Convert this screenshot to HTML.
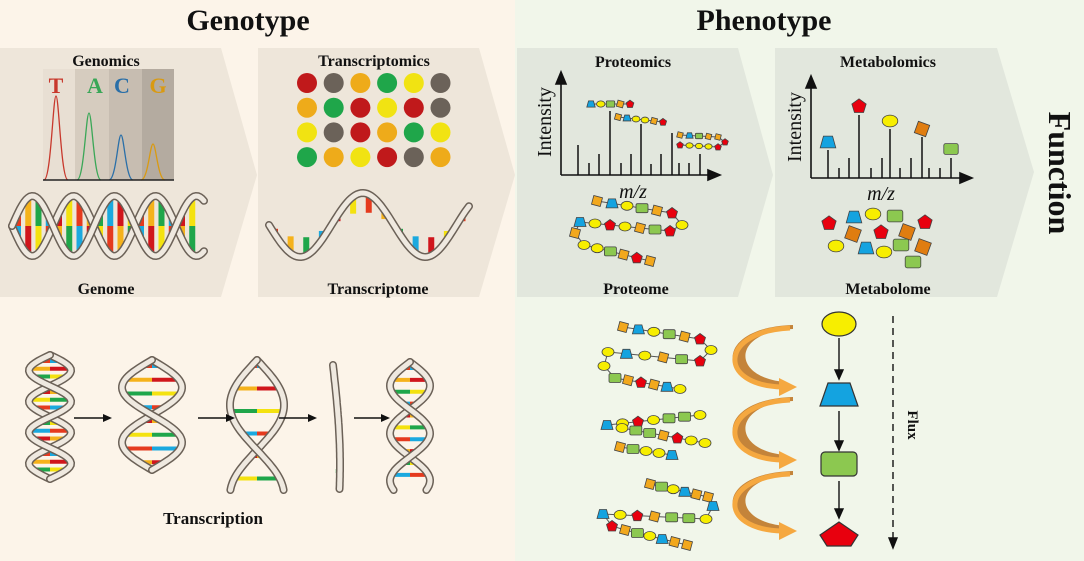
<!DOCTYPE html>
<html><head><meta charset="utf-8"><style>
html,body{margin:0;padding:0;background:#fbf4ea}
svg{display:block}
text{font-family:"Liberation Serif",serif;font-weight:bold;fill:#111}
</style></head><body>
<svg id="s" width="1084" height="561" viewBox="0 0 1084 561" xmlns="http://www.w3.org/2000/svg">
<rect x="0" y="0" width="515" height="561" fill="#fcf4e9"/>
<rect x="515" y="0" width="569" height="561" fill="#f1f6ea"/>
<polygon points="0,48 221,48 257,175 221,297 0,297" fill="#eee6da"/>
<polygon points="258,48 479,48 515,175 479,297 258,297" fill="#eee6da"/>
<polygon points="517,48 738,48 773,175 738,297 517,297" fill="#e2e7dd"/>
<polygon points="775,48 997,48 1034,172 997,297 775,297" fill="#e2e7dd"/>
<text x="248" y="30" font-size="30" text-anchor="middle">Genotype</text>
<text x="764" y="30" font-size="30" text-anchor="middle">Phenotype</text>
<text x="106" y="66" font-size="16" text-anchor="middle">Genomics</text>
<text x="374" y="66" font-size="16" text-anchor="middle">Transcriptomics</text>
<text x="633" y="67" font-size="16" text-anchor="middle">Proteomics</text>
<text x="888" y="67" font-size="16" text-anchor="middle">Metabolomics</text>
<text x="106" y="294" font-size="16" text-anchor="middle">Genome</text>
<text x="378" y="294" font-size="16" text-anchor="middle">Transcriptome</text>
<text x="636" y="294" font-size="16" text-anchor="middle">Proteome</text>
<text x="888" y="294" font-size="16" text-anchor="middle">Metabolome</text>
<text x="0" y="0" font-size="32" transform="translate(1049,173) rotate(90)" text-anchor="middle">Function</text>
<text x="213" y="524" font-size="17" text-anchor="middle">Transcription</text>
<text x="0" y="0" font-size="15" transform="translate(908,425) rotate(90)" text-anchor="middle">Flux</text>
<!-- chromatogram -->
<rect x="43" y="69" width="32" height="111" fill="#e8dfd3"/>
<rect x="75" y="69" width="34" height="111" fill="#d6ccbf"/>
<rect x="109" y="69" width="33" height="111" fill="#c7bdb1"/>
<rect x="142" y="69" width="32" height="111" fill="#b4aba0"/>
<text x="56" y="93" font-size="22" text-anchor="middle" style="fill:#c8382c">T</text>
<text x="95" y="93" font-size="22" text-anchor="middle" style="fill:#3aa757">A</text>
<text x="122" y="93" font-size="22" text-anchor="middle" style="fill:#2a6fa8">C</text>
<text x="158" y="93" font-size="22" text-anchor="middle" style="fill:#d99a12">G</text>
<g id="peaks" fill="none" stroke-width="1.3"></g>
<line x1="43" y1="180" x2="174" y2="180" stroke="#222" stroke-width="1.5"/>
<!-- axes -->
<g stroke="#111" stroke-width="1.6" fill="#111">
<line x1="561" y1="82" x2="561" y2="175"/><polygon points="556,84 561,72 566,84"/>
<line x1="561" y1="175" x2="710" y2="175"/><polygon points="708,170 720,175 708,180"/>
<line x1="811" y1="86" x2="811" y2="178"/><polygon points="806,88 811,76 816,88"/>
<line x1="811" y1="178" x2="962" y2="178"/><polygon points="960,173 972,178 960,183"/>
</g>
<text font-size="20" style="font-weight:normal" transform="translate(551,122) rotate(-90)" text-anchor="middle">Intensity</text>
<text font-size="20" style="font-weight:normal" transform="translate(801,127) rotate(-90)" text-anchor="middle">Intensity</text>
<text x="633" y="198" font-size="20" style="font-weight:normal;font-style:italic" text-anchor="middle">m/z</text>
<text x="881" y="200" font-size="20" style="font-weight:normal;font-style:italic" text-anchor="middle">m/z</text>
<!-- pathway -->
<g stroke="#333" stroke-width="1.2">
<ellipse cx="839" cy="324" rx="17" ry="12" fill="#f7ee00"/>
<polygon points="828,383 850,383 858,406 820,406" fill="#14a3e0"/>
<rect x="821" y="452" width="36" height="24" rx="4" fill="#8cc850"/>
<polygon points="839,522 858,535 851,546 827,546 820,535" fill="#e8000e"/>
</g>
<g stroke="#111" stroke-width="1.4" fill="#111">
<line x1="839" y1="338" x2="839" y2="373"/><polygon points="835,370 839,379 843,370"/>
<line x1="839" y1="411" x2="839" y2="444"/><polygon points="835,441 839,450 843,441"/>
<line x1="839" y1="481" x2="839" y2="512"/><polygon points="835,509 839,518 843,509"/>
<line x1="893" y1="316" x2="893" y2="540" stroke-dasharray="7,5"/><polygon points="889,538 893,548 897,538"/>
</g>
<g id="orange"></g>
</svg>
<script>
const NS="http://www.w3.org/2000/svg";
function el(p,t,a){const e=document.createElementNS(NS,t);for(const k in a)e.setAttribute(k,a[k]);(typeof p==="string"?document.getElementById(p):p).appendChild(e);return e;}
const S=document.getElementById('s');
[[56,96,"#c8382c"],[89,113,"#3aa757"],[121,135,"#2a6fa8"],[153,144,"#d99a12"]].forEach(([x,t,c])=>{
 el('peaks','path',{d:`M${x-12},180 C${x-5},180 ${x-3},${t} ${x},${t} C${x+3},${t} ${x+5},180 ${x+12},180`,stroke:c});});
const C={r:"#c0191b",k:"#6b6259",o:"#eeab1a",g:"#1fa64a",y:"#f1e312"};
["rkogyk","ogryrk","ykrogy","goyrko"].forEach((row,i)=>{[...row].forEach((ch,j)=>{el(S,'circle',{cx:307+26.7*j,cy:83+24.7*i,r:10,fill:C[ch]});});});
function helix(x0,x1,cy,amp,per,rungs,single,vert,rw){
 rw=rw||6;
 const pts=(ph)=>{let a=[];for(let x=x0;x<=x1;x+=2){a.push([x,cy+amp*Math.sin((x-x0)/per*2*Math.PI+ph)]);}return a;};
 const cols=["#e53a1e","#f5b21b","#1fa64a","#1ba9df","#d0161c","#f4e20f"];
 if(rungs){let k=0;for(let x=x0+6;x<x1-4;x+=per/8){const a=cy+amp*Math.sin((x-x0)/per*2*Math.PI),b=cy-amp*Math.sin((x-x0)/per*2*Math.PI);
  if(Math.abs(a-b)<10){k++;continue;}const m=(a+b)/2;
  const top=single?a:Math.min(a,b),bot=single?(a+(cy-a)*0.6):Math.max(a,b);
  const c1=cols[k%6],c2=cols[(k+3)%6];k++;
  const e1=single?bot:m;
  if(vert){el(S,'rect',{x:Math.min(top,e1),y:x-rw/2,width:Math.abs(e1-top),height:rw,fill:c1});if(!single)el(S,'rect',{x:m,y:x-rw/2,width:Math.abs(bot-m),height:rw,fill:c2});}
  else{el(S,'rect',{x:x-rw/2,y:Math.min(top,e1),width:rw,height:Math.abs(e1-top),fill:c1});if(!single)el(S,'rect',{x:x-rw/2,y:m,width:rw,height:bot-m,fill:c2});}}}
 const phs=single?[0]:[0,Math.PI];
 phs.forEach(ph=>{const d="M"+pts(ph).map(p=>{const q=vert?[p[1],p[0]]:p;return q[0].toFixed(1)+","+q[1].toFixed(1)}).join(" L");
  el(S,'path',{d,fill:"none",stroke:"#6b6157","stroke-width":8,"stroke-linecap":"round"});
  el(S,'path',{d,fill:"none",stroke:"#efe9e0","stroke-width":5,"stroke-linecap":"round"});});
}
helix(12,205,226,30,82,true,false,false);
helix(269,470,225,32,125,true,true,false);
helix(355,480,50,21,62,true,false,true,4);
helix(360,470,152,30,110,true,false,true,4);
helix(360,490,257,27,180,true,false,true,4);
helix(365,490,333,7,400,true,true,true,4);
helix(362,490,410,20,95,true,false,true,4);
[[74,110],[198,233],[279,315],[354,388]].forEach(([a,b])=>{el(S,'line',{x1:a,y1:418,x2:b-4,y2:418,stroke:"#111","stroke-width":1.4});el(S,'polygon',{points:`${b-7},414 ${b+2},418 ${b-7},422`,fill:"#111"});});
[[578,145],[589,163],[599,154],[610,111],[621,163],[631,154],[641,124],[651,164],[661,154],[672,133],[679,163],[689,163],[700,154]].forEach(([x,t])=>el(S,'line',{x1:x,y1:t,x2:x,y2:175,stroke:"#111","stroke-width":1.5}));
[[828,150],[839,168],[849,158],[859,115],[871,168],[882,158],[890,129],[900,168],[911,158],[922,137],[929,168],[940,168],[951,158]].forEach(([x,t])=>el(S,'line',{x1:x,y1:t,x2:x,y2:178,stroke:"#111","stroke-width":1.5}));
const SC={y:"#f7ee00",b:"#14a3e0",g:"#8cc850",o:"#f2a81d",r:"#e8000e",O:"#e07d10"};
function shape(x,y,t,s){const g=el(S,'g',{transform:`translate(${x},${y}) scale(${s})`,stroke:"#444","stroke-width":1/s*0.8});
 if(t=="y")el(g,'ellipse',{cx:0,cy:0,rx:6,ry:4.5,fill:SC.y});
 else if(t=="b")el(g,'polygon',{points:"-3.5,-4.5 3.5,-4.5 6,4.5 -6,4.5",fill:SC.b});
 else if(t=="g")el(g,'rect',{x:-6,y:-4.5,width:12,height:9,rx:1.5,fill:SC.g});
 else if(t=="o")el(g,'rect',{x:-4.5,y:-4.5,width:9,height:9,fill:SC.o,transform:"rotate(15)"});
 else if(t=="O")el(g,'rect',{x:-5,y:-5,width:10,height:10,fill:SC.O,transform:"rotate(20)"});
 else if(t=="r")el(g,'polygon',{points:"0,-5.5 5.5,-1.5 3.5,5 -3.5,5 -5.5,-1.5",fill:SC.r});}
function chain(pts,types,s){el(S,'polyline',{points:pts.map(p=>p.join(",")).join(" "),fill:"none",stroke:"#555","stroke-width":1});pts.forEach((p,i)=>shape(p[0],p[1],types[i%types.length],s));}
function line(x0,y0,x1,y1,n){let a=[];for(let i=0;i<n;i++)a.push([x0+(x1-x0)*i/(n-1),y0+(y1-y0)*i/(n-1)]);return a;}
chain(line(591,104,630,104,5),"bygor",0.7);
chain(line(618,117,663,122,6),"obyyor",0.65);
chain(line(680,135,718,137,5).concat([[725,142]]).concat(line(718,147,680,145,5)),"obgoorryyyrb",0.6);
chain(line(597,201,672,213,6).concat([[682,225]]).concat(line(670,231,580,222,7)).concat([[575,233]]).concat(line(584,245,650,261,6)),"obygoryrgoyryboyygor",1);
shape(828,142,"b",1.3);shape(859,106,"r",1.3);shape(890,121,"y",1.3);shape(922,129,"O",1.2);shape(951,149,"g",1.2);
[[829,223,"r"],[854,217,"b"],[873,214,"y"],[895,216,"g"],[925,222,"r"],[853,234,"O"],[881,232,"r"],[907,232,"O"],[836,246,"y"],[866,248,"b"],[884,252,"y"],[901,245,"g"],[923,247,"O"],[913,262,"g"]].forEach(a=>shape(a[0],a[1],a[2],1.3));
chain(line(623,327,700,339,6).concat([[711,350]]).concat(line(700,361,608,352,6)).concat([[604,366]]).concat(line(615,378,680,389,6)),"obygoryrgoybyygor",1);
chain(line(607,425,700,415,7),"byryggyb",1);
chain(line(622,428,705,443,7),"yggoryy",1);
chain(line(620,447,672,455,5),"ogyyb",1);
chain(line(650,484,708,497,6).concat([[713,506]]).concat(line(706,519,603,514,7)).concat([[612,526]]).concat(line(625,530,687,545,6)),"ogyboobyggorybrogyboo",1);
[[325,387],[397,460],[471,531]].forEach(([a,b])=>{
 el('orange','path',{d:`M793,${a} C716,${a+2} 712,${b-4} 785,${b+2} L785,${b-5} C730,${b-10} 732,${a+6} 793,${a+4} Z`,fill:"#c4843a"});
 el('orange','path',{d:`M790,${a+3} C720,${a+6} 716,${b-2} 782,${b}`,fill:"none",stroke:"#f5a840","stroke-width":5});
 el('orange','polygon',{points:`779,${b-9} 797,${b} 779,${b+9}`,fill:"#f5a840"});});
</script>
</body></html>
